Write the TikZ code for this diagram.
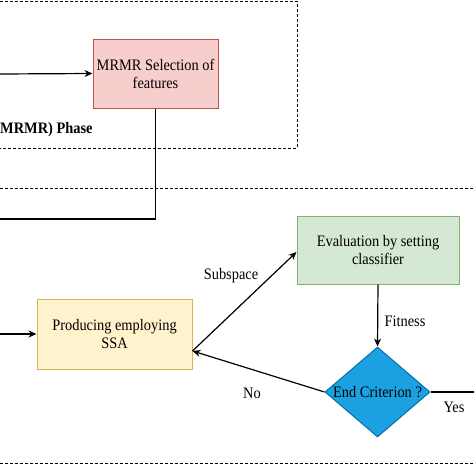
\documentclass[tikz,border=0pt]{standalone}
\usepackage{fontspec}
\setmainfont[FakeStretch=0.9]{Liberation Serif}
\usetikzlibrary{arrows.meta,shapes.geometric}
\definecolor{pinkf}{HTML}{F8CECC}\definecolor{pinkd}{HTML}{B85450}
\definecolor{greenf}{HTML}{D5E8D4}\definecolor{greend}{HTML}{82B366}
\definecolor{yelf}{HTML}{FFF2CC}\definecolor{yeld}{HTML}{D6B656}
\definecolor{bluef}{HTML}{1BA1E2}\definecolor{blued}{HTML}{006EAF}
\begin{document}
\begin{tikzpicture}[x=1pt,y=-1pt,
  txt/.style={font=\fontsize{16}{18}\selectfont},
  box/.style={draw,line width=1pt,align=center,inner sep=0pt,txt},
  arr/.style={line width=1.2pt,-{Stealth[length=8pt,width=7pt]}},
  ln/.style={line width=1.2pt},
  dsh/.style={line width=1pt,dash pattern=on 3pt off 2pt}]
\useasboundingbox (0,0) rectangle (474,474);
\fill[white] (0,0) rectangle (474,474);
% dashed phase frames
\draw[dsh] (-5,1) -- (297,1) -- (297,148) -- (-5,148);
\draw[dsh] (-5,188) -- (480,188);
\draw[dsh] (-5,463) -- (480,463);
% nodes
\node[box,fill=pinkf,draw=pinkd,minimum width=125pt,minimum height=69pt] (mrmr) at (155.5,73.5) {MRMR Selection of\\features};
\node[box,fill=greenf,draw=greend,minimum width=162pt,minimum height=68pt] (eval) at (378,250) {Evaluation by setting\\classifier};
\node[box,fill=yelf,draw=yeld,minimum width=155pt,minimum height=70pt] (prod) at (114.5,334) {Producing employing\\SSA};
\node[diamond,draw=blued,fill=bluef,line width=1pt,minimum width=105pt,minimum height=90pt,inner sep=0pt] (dia) at (377.5,392) {};
\node[txt,inner sep=0pt] (diat) at (dia.center) {End Criterion ?};
\node[txt,font=\fontsize{16}{18}\selectfont\bfseries,anchor=west,inner sep=0pt] (phase) at (0,130) {MRMR) Phase};
% free ends
\coordinate (in1) at (0,74);
\coordinate (out1) at (0,219);
\coordinate (in2) at (0,334);
\coordinate (out2) at (474,392);
\coordinate (pr) at ([yshift=-17pt]prod.east);
% connectors
\draw[arr] (in1) -- (mrmr.west);
\draw[ln] (mrmr.south) |- (out1);
\draw[arr] (in2) -- (prod.west);
\draw[arr] (pr) -- ([yshift=-2pt]eval.west);
\draw[arr] (eval.south) -- (dia.north);
\draw[arr] (dia.west) -- (pr);
\draw[ln] (dia.east) -- (out2);
% labels
\node[txt] (lsub) at (231,276) {Subspace};
\node[txt] (lfit) at (405,321) {Fitness};
\node[txt] (lno) at (252,393) {No};
\node[txt] (lyes) at (454,407) {Yes};
\end{tikzpicture}
\end{document}
